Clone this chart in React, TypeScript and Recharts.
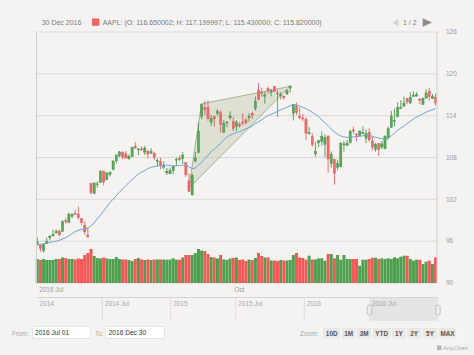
import React from "react";
import { ComposedChart, Bar, Line, XAxis, YAxis, CartesianGrid, ReferenceArea } from "recharts";

const dates = [
  "2016-07-01", "2016-07-05", "2016-07-06", "2016-07-07", "2016-07-08", "2016-07-11", "2016-07-12", "2016-07-13", "2016-07-14", "2016-07-15",
  "2016-07-18", "2016-07-19", "2016-07-20", "2016-07-21", "2016-07-22", "2016-07-25", "2016-07-26", "2016-07-27", "2016-07-28", "2016-07-29",
  "2016-08-01", "2016-08-02", "2016-08-03", "2016-08-04", "2016-08-05", "2016-08-08", "2016-08-09", "2016-08-10", "2016-08-11", "2016-08-12",
  "2016-08-15", "2016-08-16", "2016-08-17", "2016-08-18", "2016-08-19", "2016-08-22", "2016-08-23", "2016-08-24", "2016-08-25", "2016-08-26",
  "2016-08-29", "2016-08-30", "2016-08-31", "2016-09-01", "2016-09-02", "2016-09-06", "2016-09-07", "2016-09-08", "2016-09-09", "2016-09-12",
  "2016-09-13", "2016-09-14", "2016-09-15", "2016-09-16", "2016-09-19", "2016-09-20", "2016-09-21", "2016-09-22", "2016-09-23", "2016-09-26",
  "2016-09-27", "2016-09-28", "2016-09-29", "2016-09-30", "2016-10-03", "2016-10-04", "2016-10-05", "2016-10-06", "2016-10-07", "2016-10-10",
  "2016-10-11", "2016-10-12", "2016-10-13", "2016-10-14", "2016-10-17", "2016-10-18", "2016-10-19", "2016-10-20", "2016-10-21", "2016-10-24",
  "2016-10-25", "2016-10-26", "2016-10-27", "2016-10-28", "2016-10-31", "2016-11-01", "2016-11-02", "2016-11-03", "2016-11-04", "2016-11-07",
  "2016-11-08", "2016-11-09", "2016-11-10", "2016-11-11", "2016-11-14", "2016-11-15", "2016-11-16", "2016-11-17", "2016-11-18", "2016-11-21",
  "2016-11-22", "2016-11-23", "2016-11-25", "2016-11-28", "2016-11-29", "2016-11-30", "2016-12-01", "2016-12-02", "2016-12-05", "2016-12-06",
  "2016-12-07", "2016-12-08", "2016-12-09", "2016-12-12", "2016-12-13", "2016-12-14", "2016-12-15", "2016-12-16", "2016-12-19", "2016-12-20",
  "2016-12-21", "2016-12-22", "2016-12-23", "2016-12-27", "2016-12-28", "2016-12-29", "2016-12-30",
];

const open = [
  95.49, 95.39, 94.6, 95.7, 96.49, 96.75, 97.17, 97.41, 97.39, 98.92,
  98.7, 99.56, 100.0, 99.83, 99.26, 98.25, 96.82, 104.27, 102.83, 104.19,
  104.41, 106.05, 104.81, 105.58, 106.27, 107.52, 108.23, 108.71, 108.52, 107.78,
  108.14, 109.63, 109.1, 109.23, 108.77, 108.86, 108.59, 108.57, 107.39, 107.41,
  106.62, 105.8, 105.66, 106.14, 107.7, 107.9, 107.83, 107.25, 104.64, 102.65,
  107.51, 108.73, 113.86, 115.12, 115.19, 113.05, 113.85, 114.35, 114.42, 111.64,
  113.0, 113.69, 113.16, 112.46, 112.71, 113.06, 113.4, 113.7, 114.31, 115.02,
  117.7, 117.35, 116.79, 117.88, 117.33, 118.18, 117.25, 116.86, 116.81, 117.1,
  117.95, 114.31, 115.39, 113.87, 113.65, 113.46, 111.4, 110.98, 108.53, 110.08,
  110.31, 109.88, 111.09, 107.12, 107.71, 106.57, 106.7, 109.81, 109.72, 110.12,
  111.95, 111.36, 111.13, 111.43, 110.78, 111.6, 110.37, 109.17, 110.0, 109.5,
  109.26, 110.86, 112.31, 113.29, 113.84, 115.04, 115.38, 116.47, 115.8, 116.74,
  116.8, 116.35, 115.59, 116.52, 117.52, 116.45, 116.65,
];

const high = [
  96.47, 95.4, 95.66, 96.5, 96.89, 97.65, 97.7, 97.67, 98.99, 99.3,
  100.13, 100.0, 100.46, 101.0, 99.3, 98.84, 97.97, 104.35, 104.45, 104.55,
  106.15, 106.07, 105.84, 106.0, 107.65, 108.37, 108.94, 108.9, 108.93, 108.44,
  109.54, 110.23, 109.37, 109.6, 109.69, 109.1, 109.32, 108.75, 107.88, 107.95,
  107.44, 106.5, 106.57, 106.8, 108.0, 108.3, 108.76, 107.27, 105.72, 105.72,
  108.79, 113.03, 115.73, 116.13, 116.18, 114.12, 113.99, 114.94, 114.79, 113.39,
  113.18, 114.64, 113.8, 113.37, 113.05, 114.31, 113.66, 114.34, 114.56, 116.75,
  118.69, 117.98, 117.44, 118.17, 117.84, 118.21, 117.76, 117.38, 116.91, 117.74,
  118.36, 115.7, 115.86, 115.21, 114.23, 113.77, 112.35, 111.46, 110.25, 110.51,
  111.72, 111.32, 111.09, 108.87, 107.81, 107.68, 110.23, 110.35, 110.54, 111.99,
  112.42, 111.51, 111.87, 112.47, 112.03, 112.2, 110.94, 110.09, 110.03, 110.36,
  111.19, 112.43, 114.7, 115.0, 115.92, 116.2, 116.73, 116.5, 117.38, 117.5,
  117.4, 116.51, 116.52, 117.8, 118.02, 117.11, 117.2,
];

const low = [
  95.33, 94.46, 94.37, 95.62, 96.05, 96.73, 97.12, 96.84, 97.32, 98.5,
  98.6, 99.34, 99.74, 99.13, 98.31, 96.92, 96.42, 102.75, 102.82, 103.68,
  104.41, 104.0, 104.77, 105.28, 106.18, 107.16, 108.01, 107.76, 107.85, 107.78,
  108.08, 109.21, 108.34, 109.02, 108.36, 107.85, 108.53, 107.68, 106.68, 106.31,
  106.29, 105.5, 105.64, 105.62, 106.82, 107.51, 107.07, 105.24, 103.13, 102.53,
  107.24, 108.6, 113.49, 114.04, 113.25, 112.51, 112.44, 114.0, 111.55, 111.55,
  112.34, 113.43, 111.8, 111.8, 112.28, 112.63, 112.69, 113.13, 113.51, 114.72,
  116.2, 116.75, 115.72, 117.13, 116.78, 117.45, 113.8, 116.33, 116.28, 117.0,
  117.31, 113.31, 114.1, 113.45, 113.2, 110.53, 111.23, 109.55, 108.11, 109.46,
  109.7, 108.05, 105.83, 106.55, 104.08, 106.16, 106.6, 108.83, 109.66, 110.01,
  111.4, 110.33, 110.95, 111.39, 110.07, 110.27, 109.03, 108.85, 108.25, 109.19,
  109.16, 110.6, 112.31, 112.49, 113.75, 114.98, 115.23, 115.65, 115.75, 116.68,
  116.78, 115.64, 115.59, 116.49, 116.2, 116.4, 115.43,
];

const close = [
  95.89, 94.99, 95.53, 95.94, 96.68, 96.98, 97.42, 96.87, 98.79, 98.78,
  99.83, 99.87, 99.96, 99.43, 98.66, 97.34, 96.67, 102.95, 104.34, 104.21,
  106.05, 104.48, 105.79, 105.87, 107.48, 108.37, 108.81, 108.0, 107.93, 108.18,
  109.48, 109.38, 109.22, 109.08, 109.36, 108.51, 108.85, 108.03, 107.57, 106.94,
  106.82, 106.0, 106.1, 106.73, 107.73, 107.7, 108.36, 105.52, 103.13, 105.44,
  107.95, 111.77, 115.57, 114.92, 113.58, 113.57, 113.55, 114.62, 112.71, 112.88,
  113.09, 113.95, 112.18, 113.05, 112.52, 113.0, 113.05, 113.89, 114.06, 116.05,
  116.3, 117.34, 116.98, 117.63, 117.55, 117.47, 117.12, 117.06, 116.6, 117.65,
  118.25, 115.59, 114.48, 113.72, 113.54, 111.49, 111.59, 109.83, 108.84, 110.41,
  111.06, 110.88, 107.79, 108.43, 105.71, 107.11, 109.99, 109.95, 110.06, 111.73,
  111.8, 111.23, 111.79, 111.57, 111.46, 110.52, 109.49, 109.9, 109.11, 109.95,
  111.03, 112.12, 113.95, 113.3, 115.19, 115.19, 115.82, 115.97, 116.64, 116.95,
  117.06, 116.29, 116.52, 117.26, 116.76, 116.73, 115.82,
];

// volume column heights (volume axis units)
const volume = [
  24, 23, 24, 23, 23, 23, 24, 24, 25.5, 25,
  24, 24, 23.5, 24.5, 24, 28, 30, 34, 27, 25,
  24.5, 25.5, 24.5, 24, 24, 26, 24, 23.5, 23.5, 23,
  22, 24, 25, 23.5, 23, 23.5, 23, 23.5, 23.5, 23.5,
  23.5, 23.3, 23.5, 24.7, 23.3, 23.3, 25.5, 28, 28, 28,
  30, 34, 32.5, 32, 29, 26, 25.5, 24.5, 28, 23.5,
  23, 24.5, 25, 25.5, 23, 23.5, 22, 23.5, 23, 25,
  30, 27, 25.5, 25.5, 22.5, 22.5, 22, 23, 22.5, 22.5,
  23, 28, 30, 25.5, 25, 23.3, 27.3, 23.5, 23.5, 24.7,
  24.7, 22.3, 29, 29, 24.7, 28, 23.3, 28, 24, 24,
  24, 24, 17.3, 23.3, 23.3, 24, 25.3, 25.3, 24, 24.7,
  24, 24.7, 24, 25.7, 24.7, 26.3, 27.3, 27.3, 24, 22.3,
  23.3, 23.3, 19, 21.3, 22.3, 19, 25.7,
];

// moving average line
const sma = [
  95.5, 95.55, 95.6, 95.7, 95.8, 95.9, 96.0, 96.1, 96.3, 96.5,
  96.75, 97.05, 97.35, 97.55, 97.7, 97.7, 97.85, 98.2, 98.6, 99.2,
  99.7, 100.3, 100.9, 101.5, 102.0, 102.5, 103.0, 103.5, 103.9, 104.4,
  104.8, 105.2, 105.6, 105.9, 106.1, 106.4, 106.6, 106.7, 106.8, 106.85,
  106.9, 106.9, 106.85, 106.8, 106.8, 106.85, 106.9, 106.85, 106.7, 106.4,
  106.5, 106.9, 107.3, 107.8, 108.3, 108.8, 109.2, 109.6, 110.0, 110.5,
  110.9, 111.2, 111.4, 111.55, 111.7, 111.9, 112.1, 112.3, 112.5, 112.85,
  113.1, 113.4, 113.7, 114.0, 114.2, 114.4, 114.6, 114.85, 115.0, 115.2,
  115.4, 115.6, 115.55, 115.4, 115.2, 115.0, 114.8, 114.5, 114.2, 113.9,
  113.4, 113.0, 112.6, 112.1, 111.7, 111.35, 111.1, 110.95, 110.9, 110.9,
  110.95, 111.0, 111.05, 111.1, 111.2, 111.15, 111.05, 110.9, 110.8, 110.7,
  110.6, 110.7, 111.1, 111.5, 111.9, 112.2, 112.5, 112.85, 113.2, 113.5,
  113.8, 114.0, 114.25, 114.5, 114.7, 114.85, 115.0,
];

const priceTicks = [90, 96, 102, 108, 114, 120, 126];
const xTickDates = ["2016-07-01", "2016-10-03"];
const xTickNames = ["2016 Jul", "Oct"];
const triangleDates = ["2016-09-09", "2016-09-15", "2016-10-25"];
const triangleValues = [103.6, 115.7, 118.2];
const scrollerLabels = ["2014", "2014 Jul", "2015", "2015 Jul", "2016", "2016 Jul"];
const zoomButtons = ["10D", "1M", "3M", "YTD", "1Y", "2Y", "5Y", "MAX"];

const rows = dates.map((d, i) => ({
  date: d,
  o: open[i],
  h: high[i],
  l: low[i],
  c: close[i],
  range: [low[i], high[i]],
  vol: volume[i],
  sma: sma[i],
}));

const FONT = "'Liberation Sans', Arial, sans-serif";
const BG = "#f5f3f2";
const UP = "#5aa85a";
const UP_LINE = "#3b8a3b";
const DOWN = "#f06a6a";
const DOWN_LINE = "#dc5252";

const Candle = (props: any) => {
  const { x, y, width, height, payload } = props;
  const { o, h, l, c } = payload;
  if (!(h > l) || !height) return null;
  const py = (v: number) => y + ((h - v) / (h - l)) * height;
  const up = c >= o;
  const cx = x + width / 2;
  const top = py(Math.max(o, c));
  const bot = py(Math.min(o, c));
  const bw = 2.2;
  return (
    <g>
      <line x1={cx} x2={cx} y1={y} y2={y + height} stroke={up ? UP_LINE : DOWN_LINE} strokeWidth={0.8} />
      <rect x={cx - bw / 2} y={top} width={bw} height={Math.max(0.8, bot - top)} fill={up ? UP : DOWN} stroke={up ? UP_LINE : DOWN_LINE} strokeWidth={0.4} />
    </g>
  );
};

const VolBar = (props: any) => {
  const { x, y, width, height, payload } = props;
  return <rect x={x} y={y} width={width} height={height} fill={payload.c >= payload.o ? "#4f9f4f" : "#f75757"} />;
};

const Triangle = (props: any) => {
  const { x, y, width, height } = props;
  const ia = dates.indexOf(triangleDates[0]);
  const ib = dates.indexOf(triangleDates[1]);
  const ic = dates.indexOf(triangleDates[2]);
  const bw = width / (ic - ia + 1);
  const vmin = triangleValues[0];
  const vmax = triangleValues[2];
  const px = (i: number) => x + bw * (i - ia + 0.5);
  const py = (v: number) => y + ((vmax - v) / (vmax - vmin)) * height;
  const pts = [
    [px(ia), py(triangleValues[0])],
    [px(ib), py(triangleValues[1])],
    [px(ic), py(triangleValues[2])],
  ];
  return <polygon points={pts.map((p) => p.join(",")).join(" ")} fill="#b9c3a6" fillOpacity={0.4} stroke="#98a38c" strokeWidth={0.8} />;
};

const XTick = (props: any) => {
  const { x, y, payload } = props;
  const k = xTickDates.indexOf(payload.value);
  if (k < 0) return null;
  return (
    <text x={x + (k === 0 ? 2.2 : -5)} y={y + 0.5} fontSize={6.4} fill="#999" fontFamily={FONT}>
      {xTickNames[k]}
    </text>
  );
};

const btnX = [322.7, 341.3, 356.7, 372.3, 391.7, 406.7, 422.3, 438.3, 457.3];
const scrollX = [37, 102.3, 170.7, 235.7, 304.3, 369.3];

export default function App() {
  return (
    <div style={{ position: "absolute", left: 0, top: 0, width: 474, height: 355, background: BG, fontFamily: FONT, overflow: "hidden" }}>
      <div style={{ position: "absolute", left: 0, top: 0 }}>
        <ComposedChart width={474} height={300} data={rows} margin={{ top: 32, right: 0, left: 35.5, bottom: 0 }} barCategoryGap="8%">
          <CartesianGrid xAxisId="p" yAxisId="p" vertical={false} stroke="#dcdad9" />
          <XAxis xAxisId="p" dataKey="date" ticks={xTickDates} interval={0} tick={<XTick />} tickLine={false} axisLine={false} height={17} />
          <XAxis xAxisId="v" dataKey="date" hide />
          <YAxis
            yAxisId="p"
            orientation="right"
            domain={[90, 126]}
            ticks={priceTicks}
            width={37}
            tickLine={false}
            tickSize={6}
            tickMargin={3}
            axisLine={{ stroke: "#d2d0cf" }}
            tick={{ fontSize: 6.5, fill: "#999", fontFamily: FONT, textAnchor: "start" }}
          />
          <YAxis yAxisId="v" domain={[0, 251]} hide />
          <Bar xAxisId="v" yAxisId="v" dataKey="vol" shape={<VolBar />} isAnimationActive={false} />
          <ReferenceArea
            xAxisId="p"
            yAxisId="p"
            x1={triangleDates[0]}
            x2={triangleDates[2]}
            y1={triangleValues[0]}
            y2={triangleValues[2]}
            shape={<Triangle />}
          />
          <Bar xAxisId="p" yAxisId="p" dataKey="range" shape={<Candle />} isAnimationActive={false} />
          <Line xAxisId="p" yAxisId="p" dataKey="sma" stroke="#6ca4d6" strokeWidth={1} dot={false} activeDot={false} isAnimationActive={false} />
        </ComposedChart>
      </div>
      <svg width={474} height={355} style={{ position: "absolute", left: 0, top: 0, pointerEvents: "none" }} fontFamily={FONT}>
        {/* header / legend */}
        <text x={41.7} y={25.2} fontSize={7} fill="#7a7a7a">30 Dec 2016</text>
        <rect x={92} y={18.5} width={7.3} height={7.3} fill="#ef6464" />
        <text x={102.7} y={25.2} fontSize={7} fill="#7a7a7a">AAPL: (O: 116.650002; H: 117.199997; L: 115.430000; C: 115.820000)</text>
        <polygon points="392.7,22.7 398.3,19 398.3,26.4" fill="#d5d3d2" />
        <text x={403} y={25.2} fontSize={7} fill="#7a7a7a">1 / 2</text>
        <polygon points="432,22.5 422.7,18.3 422.7,26.7" fill="#8c8c8c" />
        {/* plot frame left */}
        <line x1={36.5} x2={36.5} y1={32} y2={283} stroke="#d2d0cf" strokeWidth={1} />
        {/* scroller */}
        <rect x={369.3} y={297} width={68.7} height={24} fill="#e6e4e3" />
        <line x1={36.5} x2={438} y1={297.5} y2={297.5} stroke="#d6d4d3" />
        {scrollX.map((sx, i) => (
          <g key={scrollerLabels[i]}>
            {i > 0 && i < 5 && <line x1={sx} x2={sx} y1={297} y2={321} stroke="#dcdad9" />}
            <text x={sx + 2.6} y={306.3} fontSize={6.4} fill="#a8a8a8">{scrollerLabels[i]}</text>
          </g>
        ))}
        <rect x={367.3} y={305} width={4.4} height={10} rx={2} fill="#eeeceb" stroke="#a8a6a5" strokeWidth={0.6} />
        <rect x={435.8} y={305} width={4.4} height={10} rx={2} fill="#eeeceb" stroke="#a8a6a5" strokeWidth={0.6} />
        {/* range inputs */}
        <text x={12} y={335.5} fontSize={6.4} fill="#aaa">From:</text>
        <rect x={32.3} y={326.7} width={58.4} height={11.6} fill="#fff" stroke="#dad8d7" strokeWidth={0.6} />
        <text x={35} y={335.3} fontSize={6.6} fill="#333">2016 Jul 01</text>
        <text x={95} y={335.5} fontSize={6.4} fill="#aaa">To:</text>
        <rect x={105.7} y={326.7} width={58.6} height={11.6} fill="#fff" stroke="#dad8d7" strokeWidth={0.6} />
        <text x={108.7} y={335.3} fontSize={6.6} fill="#333">2016 Dec 30</text>
        {/* zoom buttons */}
        <text x={300} y={335.5} fontSize={6.5} fill="#aaa">Zoom:</text>
        {zoomButtons.map((b, i) => (
          <g key={b}>
            <rect x={btnX[i]} y={327.7} width={btnX[i + 1] - btnX[i] - 0.6} height={11.3} fill="#eae8e7" stroke="#fbfbfb" strokeWidth={0.6} />
            <text x={(btnX[i] + btnX[i + 1]) / 2 - 0.3} y={335.7} fontSize={6.4} fontWeight="bold" fill="#555" textAnchor="middle">{b}</text>
          </g>
        ))}
        {/* credits */}
        <rect x={437} y={345.5} width={4.5} height={4.5} fill="#b5b5b5" />
        <text x={443} y={350} fontSize={6} fill="#aaa">AnyChart</text>
      </svg>
    </div>
  );
}
